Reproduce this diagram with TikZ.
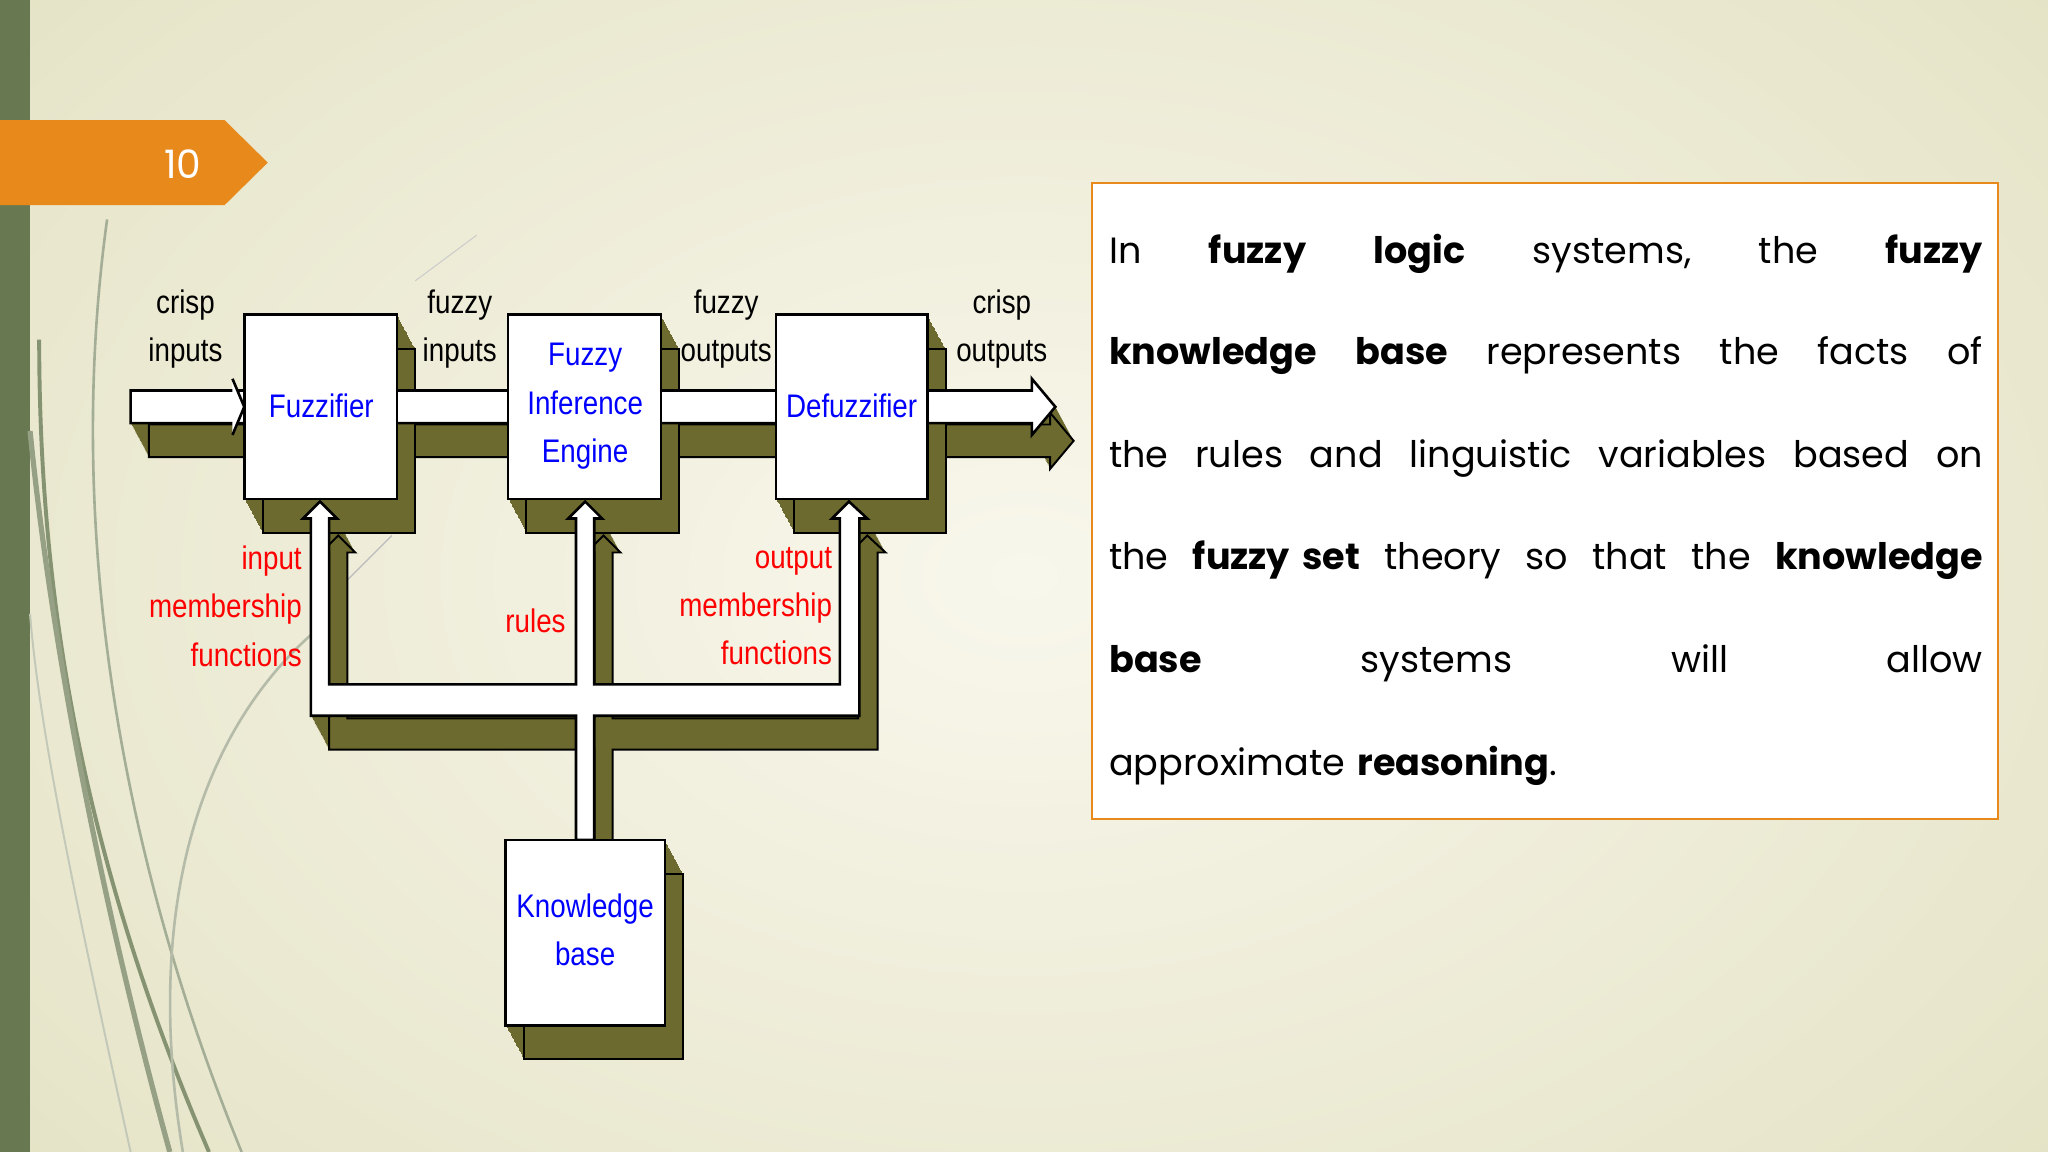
\documentclass[tikz,border=0pt]{standalone}
\usepackage{fontspec}
\setmainfont{Poppins}
\newfontfamily\diagfont{Liberation Sans}
\definecolor{olv}{RGB}{108,106,46}
\definecolor{tab}{RGB}{232,137,28}
\definecolor{bar}{RGB}{104,120,80}
\definecolor{bgin}{RGB}{248,247,236}
\definecolor{bgout}{RGB}{228,226,196}
\newcommand\myextr[1]{\foreach \t in {0,0.04,...,1.01}{\fill[olv,shift={(\t*14,\t*26)}] #1;}\draw[line width=1.5pt,shift={(14,26)}] #1;}
\tikzset{
 lbl/.style={font=\diagfont\fontsize{25}{37}\selectfont, align=center, xscale=0.85},
 blu/.style={lbl,text=blue},
 rd/.style={lbl,text=red,align=right},
 face/.style={fill=white,draw=black,line width=2pt},
}
\begin{document}
\begin{tikzpicture}[x=1pt,y=-1pt]
\useasboundingbox (0,0) rectangle (1568,882);
\shade[inner color=bgin,outer color=bgout] (-300,-300) rectangle (1868,1182);
\fill[bar] (0,0) rectangle (23,882);
% decorative curves
\draw[bar!80,line width=3pt] (160,882) .. controls (60,650) and (30,450) .. (30,260);
\draw[bar!60,line width=2pt] (185,882) .. controls (90,650) and (50,400) .. (82,168);
\draw[bar!70,line width=4pt] (130,882) .. controls (80,700) and (40,500) .. (23,330);
\draw[bar!50,line width=2pt] (140,882) .. controls (110,700) and (150,560) .. (245,480);
\draw[bar!40,line width=1.5pt] (100,882) .. controls (60,700) and (30,560) .. (23,470);
\draw[gray!50,line width=1pt] (240,470) -- (300,410);
\draw[gray!40,line width=0.8pt] (318,215) -- (365,180);
% tab
\fill[tab] (0,92) -- (172,92) -- (205,124.5) -- (172,157) -- (0,157) -- cycle;
\node[text=white,font=\fontsize{30}{30}\selectfont] (pg) at (140,126) {10};
% extrusions
\myextr{(100,299) -- (790,299) -- (790,290) -- (808,311.5) -- (790,333) -- (790,324) -- (100,324) -- cycle}
\myextr{(238,548) -- (238,397) -- (232,397) -- (245,384) -- (258,397) -- (252,397) -- (252,524) -- (441,524) -- (441,397) -- (435,397) -- (448,384) -- (461,397) -- (455,397) -- (455,524) -- (643,524) -- (643,397) -- (637,397) -- (650,384) -- (664,397) -- (658,397) -- (658,548) -- (455,548) -- (455,643) -- (441,643) -- (441,548) -- cycle}
\myextr{(187,241) rectangle (304,382)}
\myextr{(389,241) rectangle (506,382)}
\myextr{(594,241) rectangle (710,382)}
\myextr{(387,643) rectangle (509,785)}
% white bands
\draw[face] (100,299) -- (790,299) -- (790,290) -- (808,311.5) -- (790,333) -- (790,324) -- (100,324) -- cycle;
\draw[face] (178,290) -- (187,311.5) -- (178,333);
\draw[face] (238,548) -- (238,397) -- (232,397) -- (245,384) -- (258,397) -- (252,397) -- (252,524) -- (441,524) -- (441,397) -- (435,397) -- (448,384) -- (461,397) -- (455,397) -- (455,524) -- (643,524) -- (643,397) -- (637,397) -- (650,384) -- (664,397) -- (658,397) -- (658,548) -- (455,548) -- (455,643) -- (441,643) -- (441,548) -- cycle;
% boxes
\draw[face] (187,241) rectangle (304,382);
\draw[face] (389,241) rectangle (506,382);
\draw[face] (594,241) rectangle (710,382);
\draw[face] (387,643) rectangle (509,785);
\node[blu] (fz) at (246,311) {Fuzzifier};
\node[blu] (fie) at (448,311) {Fuzzy\\Inference\\Engine};
\node[blu] (dfz) at (652,311) {Defuzzifier};
\node[blu] (kb) at (448,712) {Knowledge\\base};
\node[lbl] (ci) at (142,252) {crisp\\inputs};
\node[lbl] (fi) at (352,252) {fuzzy\\inputs};
\node[lbl] (fo) at (556,252) {fuzzy\\outputs};
\node[lbl] (co) at (767,252) {crisp\\outputs};
\node[rd,anchor=east] (imf) at (234,464) {input\\membership\\functions};
\node[rd] (rl) at (410,475) {rules};
\node[rd,anchor=east] (omf) at (640,464) {output\\membership\\functions};
% text box
\draw[tab,line width=1.5pt,fill=white] (836,140) rectangle (1530,627);
\begin{scope}[every node/.style={anchor=west,text width=669pt,inner sep=0pt,font=\fontsize{28}{32}\selectfont}]
\node (l1) at (849,194) {In\hfill\textbf{fuzzy}\hfill\textbf{logic}\hfill systems,\hfill the\hfill\textbf{fuzzy}};
\node (l2) at (849,272) {\textbf{knowledge}\hfill\textbf{base}\hfill represents\hfill the\hfill facts\hfill of};
\node (l3) at (849,351) {the\hfill rules\hfill and\hfill linguistic\hfill variables\hfill based\hfill on};
\node (l4) at (849,429) {the\hfill\textbf{fuzzy set}\hfill theory\hfill so\hfill that\hfill the\hfill\textbf{knowledge}};
\node (l5) at (849,508) {\textbf{base}\hfill systems\hfill will\hfill allow};
\node (l6) at (849,586) {approximate \textbf{reasoning}.};
\end{scope}
\end{tikzpicture}
\end{document}
